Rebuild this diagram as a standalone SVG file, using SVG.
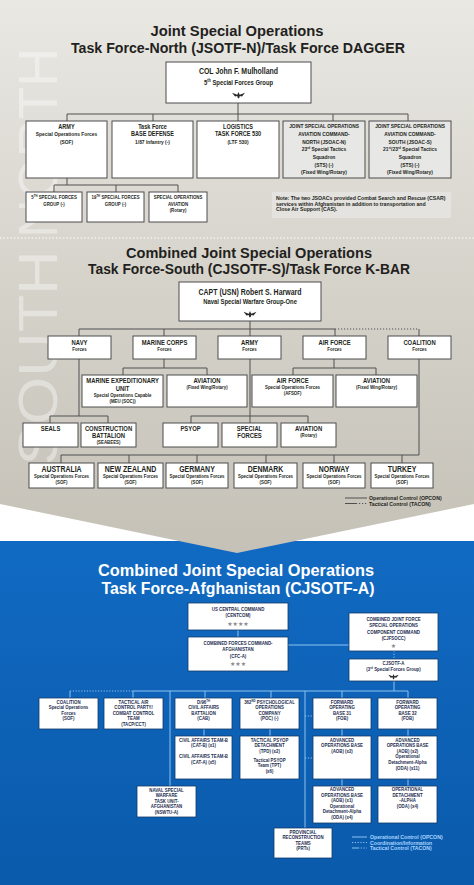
<svg xmlns="http://www.w3.org/2000/svg" width="474" height="885" viewBox="0 0 474 885">
<defs>
<linearGradient id="gray" x1="0" y1="0" x2="0" y2="1">
<stop offset="0" stop-color="#e9e8e3"/>
<stop offset="0.5" stop-color="#d6d3cb"/>
<stop offset="1" stop-color="#c5c1b7"/>
</linearGradient>
<linearGradient id="blue" x1="0" y1="0" x2="0" y2="1">
<stop offset="0" stop-color="#116ac2"/>
<stop offset="1" stop-color="#0a5aab"/>
</linearGradient>
<g id="eagle"><path d="M-6.5,-2.2 L-1.2,-0.2 L0,-3 L1.2,-0.2 L6.5,-2.2 L3.5,1.6 L1.3,1 L0.8,2.8 L0,3.6 L-0.8,2.8 L-1.3,1 L-3.5,1.6 Z" fill="#2a2a2a"/></g>
</defs>
<style>
text{font-family:'Liberation Sans',Arial,sans-serif;font-weight:bold;fill:#231f20;text-anchor:middle}
text.k{transform-box:fill-box;transform-origin:center;transform:scaleX(0.84)}
.h{font-size:14.3px}
.hw{font-size:17.2px;fill:#ffffff}
.wm{font-weight:normal;fill:#ffffff;fill-opacity:0.38;font-size:56px}
.s9{font-size:8.3px}
.s8{font-size:7px}
.s7{font-size:6.6px}
.s6{font-size:5.8px}
.s5{font-size:5.2px}
.l{text-anchor:start}
.bt{fill:#1c2d4f}
.lg{fill:#a9d5ff;font-size:5.2px;text-anchor:start}
.star{fill:#8a8a8a;font-family:'DejaVu Sans',sans-serif;font-size:6px}
.box{fill:#ffffff;stroke:#4d4d4d;stroke-width:1}
.gbox{fill:#e7e7e6;stroke:#4d4d4d;stroke-width:1}
.bbox{fill:#ffffff;stroke:#123a6a;stroke-width:0.8}
.c{stroke:#505050;stroke-width:1;fill:none}
.cd{stroke:#505050;stroke-width:1;fill:none;stroke-dasharray:1.2 1.8}
.cb{stroke:#8dc3f2;stroke-width:1;fill:none}
.cbd{stroke:#8dc3f2;stroke-width:1;fill:none;stroke-dasharray:1.2 1.6}
</style>

<!-- backgrounds -->
<rect x="0" y="0" width="474" height="885" fill="#ffffff"/>
<rect x="0" y="541" width="474" height="344" fill="url(#blue)"/>
<polygon points="0,0 474,0 474,504 237,553 0,504" fill="url(#gray)"/>
<text class="wm" transform="translate(57,143) rotate(-90)" textLength="190" lengthAdjust="spacingAndGlyphs">NORTH</text>
<text class="wm" transform="translate(57,358) rotate(-90)" textLength="215" lengthAdjust="spacingAndGlyphs">SOUTH</text>
<line x1="0" y1="238" x2="474" y2="238" stroke="#ffffff" stroke-width="1" stroke-dasharray="1.5 2"/>

<!-- titles -->
<g id="title-north">
<text class="h" x="237" y="36" textLength="173" lengthAdjust="spacingAndGlyphs">Joint Special Operations</text>
<text class="h" x="238" y="53" textLength="334" lengthAdjust="spacingAndGlyphs">Task Force-North (JSOTF-N)/Task Force DAGGER</text>
</g>
<g id="title-south">
<text class="h" x="249" y="257.5" textLength="246" lengthAdjust="spacingAndGlyphs">Combined Joint Special Operations</text>
<text class="h" x="249" y="273.5" textLength="322" lengthAdjust="spacingAndGlyphs">Task Force-South (CJSOTF-S)/Task Force K-BAR</text>
</g>
<g id="title-afg">
<text class="hw" x="236" y="575.5" textLength="276" lengthAdjust="spacingAndGlyphs">Combined Joint Special Operations</text>
<text class="hw" x="238" y="593.5" textLength="273" lengthAdjust="spacingAndGlyphs">Task Force-Afghanistan (CJSOTF-A)</text>
</g>

<!-- connectors -->
<g id="connectors">
<path class="c" d="M238,103V114 M67,114H408 M67,114V121 M153,114V121 M238,114V121 M333,114V121 M408,114V121"/>
<path class="c" d="M67,178V185 M54,185H178 M54,185V192 M116,185V192 M178,185V192"/>
<path class="c" d="M250,321V329 M79,329H335 M79,329V336 M164,329V336 M250,329V336 M335,329V336 M419,329V336"/>
<path class="cd" d="M335,329H419"/>
<path class="c" d="M79,359V416 M50,416H108 M50,416V423 M108,416V423"/>
<path class="c" d="M164,359V368 M123,368H207 M123,368V375 M207,368V375"/>
<path class="c" d="M250,359V416 M191,416H308 M191,416V423 M250,416V423 M308,416V423"/>
<path class="c" d="M334,359V368 M293,368H376 M293,368V375 M376,368V375"/>
<path class="c" d="M419,359V455 M61,455H419 M61,455V463 M129,455V463 M197,455V463 M266,455V463 M334,455V463 M402,455V463"/>
<path class="cb" d="M238,630V637 M288,645H349 M394,681V691 M133,691H408"/>
<path class="cbd" d="M394,651V659 M70,691H133"/>
<path class="cb" d="M70,691V698 M133,691V698 M205,691V698 M271,691V698 M342,691V698 M408,691V698"/>
<path class="cb" d="M170,691V786 M305,691V828"/>
<path class="cbd" d="M305,716H313 M305,758H313"/>
<path class="cb" d="M204,729V736 M270,729V736 M342,729V736 M408,729V736 M342,779V786 M408,779V786"/>
</g>

<!-- ===== NORTH nodes ===== -->
<g id="n-col">
<rect class="box" x="166" y="62" width="145" height="41"/>
<text class="s9 k" x="238.5" y="74">COL John F. Mulholland</text>
<text class="s8 k" x="238.5" y="85">5<tspan font-size="4.5" dy="-2.5">th</tspan><tspan dy="2.5"> Special Forces Group</tspan></text>
<use href="#eagle" x="238.5" y="95"/>
</g>
<g id="n-army">
<rect class="box" x="26" y="121" width="81" height="57"/>
<text class="s7 k" x="66.5" y="129">ARMY</text>
<text class="s6 k" x="66.5" y="136.5">Special Operations Forces</text>
<text class="s6 k" x="66.5" y="144">(SOF)</text>
</g>
<g id="n-tfbd">
<rect class="box" x="112" y="121" width="81" height="57"/>
<text class="s7 k" x="152.5" y="129">Task Force</text>
<text class="s7 k" x="152.5" y="136.5">BASE DEFENSE</text>
<text class="s6 k" x="152.5" y="144">1/87 Infantry  (-)</text>
</g>
<g id="n-ltf">
<rect class="box" x="197" y="121" width="82" height="57"/>
<text class="s7 k" x="238" y="129">LOGISTICS</text>
<text class="s7 k" x="238" y="136.5">TASK FORCE 530</text>
<text class="s6 k" x="238" y="144">(LTF 530)</text>
</g>
<g id="n-jsoacn">
<rect class="gbox" x="283" y="121" width="82" height="57"/>
<text class="s6 k" x="324" y="128.3">JOINT SPECIAL OPERATIONS</text>
<text class="s6 k" x="324" y="136">AVIATION COMMAND-</text>
<text class="s6 k" x="324" y="143.7">NORTH  (JSOAC-N)</text>
<text class="s6 k" x="324" y="151.3">23<tspan font-size="3.6" dy="-2">rd</tspan><tspan dy="2"> Special Tactics</tspan></text>
<text class="s6 k" x="324" y="159">Squadron</text>
<text class="s6 k" x="324" y="166.7">(STS) (-)</text>
<text class="s6 k" x="324" y="174.3">(Fixed  Wing/Rotary)</text>
</g>
<g id="n-jsoacs">
<rect class="gbox" x="369" y="121" width="82" height="57"/>
<text class="s6 k" x="410" y="128.3">JOINT SPECIAL OPERATIONS</text>
<text class="s6 k" x="410" y="136">AVIATION COMMAND-</text>
<text class="s6 k" x="410" y="143.7">SOUTH  (JSOAC-S)</text>
<text class="s6 k" x="410" y="151.3">21<tspan font-size="3.6" dy="-2">st</tspan><tspan dy="2">/23</tspan><tspan font-size="3.6" dy="-2">rd</tspan><tspan dy="2"> Special Tactics</tspan></text>
<text class="s6 k" x="410" y="159">Squadron</text>
<text class="s6 k" x="410" y="166.7">(STS) (-)</text>
<text class="s6 k" x="410" y="174.3">(Fixed  Wing/Rotary)</text>
</g>
<g id="n-5sfg">
<rect class="box" x="26" y="192" width="56" height="30"/>
<text class="s5 k" x="54" y="199.3">5<tspan font-size="3.4" dy="-1.8">TH</tspan><tspan dy="1.8"> SPECIAL FORCES</tspan></text>
<text class="s5 k" x="54" y="205.7">GROUP (-)</text>
</g>
<g id="n-19sfg">
<rect class="box" x="87" y="192" width="57" height="30"/>
<text class="s5 k" x="115.5" y="199.3">19<tspan font-size="3.4" dy="-1.8">TH</tspan><tspan dy="1.8"> SPECIAL FORCES</tspan></text>
<text class="s5 k" x="115.5" y="205.7">GROUP (-)</text>
</g>
<g id="n-soa">
<rect class="box" x="149" y="192" width="58" height="30"/>
<text class="s5 k" x="178" y="199.3">SPECIAL OPERATIONS</text>
<text class="s5 k" x="178" y="205.7">AVIATION</text>
<text class="s5 k" x="178" y="211.8" font-weight="normal">(Rotary)</text>
</g>
<g id="n-note">
<rect x="272" y="192" width="179" height="26" fill="#e4e3df"/>
<text class="s5 l" x="276" y="200">Note: The two JSOACs provided Combat Search and Rescue (CSAR)</text>
<text class="s5 l" x="276" y="205.7">services within Afghanistan in addition to transportation and</text>
<text class="s5 l" x="276" y="211.4">Close Air Support (CAS).</text>
</g>

<!-- ===== SOUTH nodes ===== -->
<g id="s-capt">
<rect class="box" x="179" y="282" width="142" height="39"/>
<text class="s9 k" x="250" y="295">CAPT (USN) Robert S. Harward</text>
<text class="s8 k" x="250" y="304">Naval Special Warfare Group-One</text>
<use href="#eagle" x="250" y="314"/>
</g>
<g id="s-navy"><rect class="box" x="48" y="336" width="63" height="23"/><text class="s8 k" x="79.5" y="345">NAVY</text><text class="s5 k" x="79.5" y="351.5">Forces</text></g>
<g id="s-marine"><rect class="box" x="133" y="336" width="63" height="23"/><text class="s8 k" x="164.5" y="345">MARINE CORPS</text><text class="s5 k" x="164.5" y="351.5">Forces</text></g>
<g id="s-army"><rect class="box" x="218" y="336" width="63" height="23"/><text class="s8 k" x="249.5" y="345">ARMY</text><text class="s5 k" x="249.5" y="351.5">Forces</text></g>
<g id="s-af"><rect class="box" x="303" y="336" width="63" height="23"/><text class="s8 k" x="334.5" y="345">AIR FORCE</text><text class="s5 k" x="334.5" y="351.5">Forces</text></g>
<g id="s-coal"><rect class="box" x="388" y="336" width="63" height="23"/><text class="s8 k" x="419.5" y="345">COALITION</text><text class="s5 k" x="419.5" y="351.5">Forces</text></g>
<g id="s-meu"><rect class="box" x="82" y="375" width="81" height="32"/>
<text class="s8 k" x="122.5" y="383.5">MARINE EXPEDITIONARY</text>
<text class="s8 k" x="122.5" y="391">UNIT</text>
<text class="s5 k" x="122.5" y="397.3">Special Operations Capable</text>
<text class="s5 k" x="122.5" y="402.8">(MEU (SOC))</text></g>
<g id="s-mav"><rect class="box" x="167" y="375" width="80" height="32"/>
<text class="s8 k" x="207" y="383.5">AVIATION</text>
<text class="s5 k" x="207" y="389.5">(Fixed  Wing/Rotary)</text></g>
<g id="s-afsof"><rect class="box" x="252" y="375" width="81" height="32"/>
<text class="s8 k" x="292.5" y="383.5">AIR FORCE</text>
<text class="s5 k" x="292.5" y="389.5">Special Operations Forces</text>
<text class="s5 k" x="292.5" y="395">(AFSOF)</text></g>
<g id="s-afav"><rect class="box" x="336" y="375" width="81" height="32"/>
<text class="s8 k" x="376.5" y="383.5">AVIATION</text>
<text class="s5 k" x="376.5" y="389.5">(Fixed  Wing/Rotary)</text></g>
<g id="s-seals"><rect class="box" x="23" y="423" width="55" height="24"/><text class="s8 k" x="50.5" y="431">SEALS</text></g>
<g id="s-cb"><rect class="box" x="81" y="423" width="55" height="24"/>
<text class="s8 k" x="108.5" y="430.8">CONSTRUCTION</text>
<text class="s8 k" x="108.5" y="438.3">BATTALION</text>
<text class="s5 k" x="108.5" y="444">(SEABEES)</text></g>
<g id="s-psyop"><rect class="box" x="163" y="423" width="55" height="24"/><text class="s8 k" x="190.5" y="431">PSYOP</text></g>
<g id="s-sf"><rect class="box" x="222" y="423" width="55" height="24"/><text class="s8 k" x="249.5" y="430.8">SPECIAL</text><text class="s8 k" x="249.5" y="438.3">FORCES</text></g>
<g id="s-aav"><rect class="box" x="281" y="423" width="55" height="24"/><text class="s8 k" x="308.5" y="430.8">AVIATION</text><text class="s5 k" x="308.5" y="437">(Rotary)</text></g>
<g id="s-aus"><rect class="box" x="29" y="463" width="65" height="25"/><text class="s9 k" x="61.5" y="472">AUSTRALIA</text><text class="s5 k" x="61.5" y="478.3">Special Operations Forces</text><text class="s5 k" x="61.5" y="484">(SOF)</text></g>
<g id="s-nz"><rect class="box" x="98" y="463" width="65" height="25"/><text class="s9 k" x="130.5" y="472">NEW ZEALAND</text><text class="s5 k" x="130.5" y="478.3">Special Operations Forces</text><text class="s5 k" x="130.5" y="484">(SOF)</text></g>
<g id="s-ger"><rect class="box" x="166" y="463" width="62" height="25"/><text class="s9 k" x="197" y="472">GERMANY</text><text class="s5 k" x="197" y="478.3">Special Operations Forces</text><text class="s5 k" x="197" y="484">(SOF)</text></g>
<g id="s-den"><rect class="box" x="234" y="463" width="63" height="25"/><text class="s9 k" x="265.5" y="472">DENMARK</text><text class="s5 k" x="265.5" y="478.3">Special Operations Forces</text><text class="s5 k" x="265.5" y="484">(SOF)</text></g>
<g id="s-nor"><rect class="box" x="303" y="463" width="62" height="25"/><text class="s9 k" x="334" y="472">NORWAY</text><text class="s5 k" x="334" y="478.3">Special Operations Forces</text><text class="s5 k" x="334" y="484">(SOF)</text></g>
<g id="s-tur"><rect class="box" x="371" y="463" width="62" height="25"/><text class="s9 k" x="402" y="472">TURKEY</text><text class="s5 k" x="402" y="478.3">Special Operations Forces</text><text class="s5 k" x="402" y="484">(SOF)</text></g>
<g id="s-legend">
<line class="c" x1="345" y1="498" x2="367" y2="498"/>
<line class="c" x1="345" y1="503.5" x2="356" y2="503.5"/>
<line class="cd" x1="356" y1="503.5" x2="367" y2="503.5"/>
<text class="s5 l" x="369" y="500">Operational Control (OPCON)</text>
<text class="s5 l" x="369" y="505.5">Tactical Control (TACON)</text>
</g>

<!-- ===== AFGHANISTAN nodes ===== -->
<g id="a-centcom"><rect class="bbox" x="188" y="603" width="100" height="27"/>
<text class="s5 bt k" x="238" y="611">US CENTRAL COMMAND</text>
<text class="s5 bt k" x="238" y="617.5">(CENTCOM)</text>
<text class="star" x="238" y="626">★★★★</text></g>
<g id="a-cfca"><rect class="bbox" x="188" y="637" width="100" height="34"/>
<text class="s5 bt k" x="238" y="645">COMBINED FORCES COMMAND-</text>
<text class="s5 bt k" x="238" y="651.5">AFGHANISTAN</text>
<text class="s5 bt k" x="238" y="658">(CFC-A)</text>
<text class="star" x="238" y="666">★★★</text></g>
<g id="a-cjfsocc"><rect class="bbox" x="349" y="613" width="89" height="38"/>
<text class="s5 bt k" x="393.5" y="621">COMBINED JOINT FORCE</text>
<text class="s5 bt k" x="393.5" y="627.5">SPECIAL OPERATIONS</text>
<text class="s5 bt k" x="393.5" y="634">COMPONENT COMMAND</text>
<text class="s5 bt k" x="393.5" y="640.5">(CJFSOCC)</text>
<text class="star" x="393.5" y="648">★</text></g>
<g id="a-cjsotfa"><rect class="bbox" x="349" y="659" width="89" height="22"/>
<text class="s5 bt k" x="393.5" y="665.5">CJSOTF-A</text>
<text class="s5 bt k" x="393.5" y="671" font-size="4.6">(3<tspan font-size="3.2" dy="-1.6">rd</tspan><tspan dy="1.6"> Special Forces Group)</tspan></text>
<use href="#eagle" transform="translate(393.5,676.5) scale(0.8)"/></g>
<g id="a-coal"><rect class="bbox" x="39" y="698" width="59" height="31"/>
<text class="s5 bt k" x="68.5" y="704">COALITION</text>
<text class="s5 bt k" x="68.5" y="709.5">Special Operations</text>
<text class="s5 bt k" x="68.5" y="715">Forces</text>
<text class="s5 bt k" x="68.5" y="720.5">(SOF)</text></g>
<g id="a-tacp"><rect class="bbox" x="104" y="698" width="59" height="31"/>
<text class="s5 bt k" x="133.5" y="704">TACTICAL AIR</text>
<text class="s5 bt k" x="133.5" y="709.5">CONTROL PARTY/</text>
<text class="s5 bt k" x="133.5" y="715">COMBAT CONTROL</text>
<text class="s5 bt k" x="133.5" y="720.5">TEAM</text>
<text class="s5 bt k" x="133.5" y="726">(TACP/CCT)</text></g>
<g id="a-cab"><rect class="bbox" x="175" y="698" width="57" height="31"/>
<text class="s5 bt k" x="203.5" y="704">D/96<tspan font-size="3.4" dy="-1.8">TH</tspan></text>
<text class="s5 bt k" x="203.5" y="709.5">CIVIL AFFAIRS</text>
<text class="s5 bt k" x="203.5" y="715">BATTALION</text>
<text class="s5 bt k" x="203.5" y="720.5">(CAB)</text></g>
<g id="a-poc"><rect class="bbox" x="240" y="698" width="59" height="31"/>
<text class="s5 bt k" x="269.5" y="704">362<tspan font-size="3.4" dy="-1.8">ND</tspan><tspan dy="1.8"> PSYCHOLOGICAL</tspan></text>
<text class="s5 bt k" x="269.5" y="709.5">OPERATIONS</text>
<text class="s5 bt k" x="269.5" y="715">COMPANY</text>
<text class="s5 bt k" x="269.5" y="720.5">(POC)  (-)</text></g>
<g id="a-fob31"><rect class="bbox" x="313" y="698" width="58" height="31"/>
<text class="s5 bt k" x="342" y="704">FORWARD</text>
<text class="s5 bt k" x="342" y="709.5">OPERATING</text>
<text class="s5 bt k" x="342" y="715">BASE 31</text>
<text class="s5 bt k" x="342" y="720.5">(FOB)</text></g>
<g id="a-fob32"><rect class="bbox" x="378" y="698" width="59" height="31"/>
<text class="s5 bt k" x="407.5" y="704">FORWARD</text>
<text class="s5 bt k" x="407.5" y="709.5">OPERATING</text>
<text class="s5 bt k" x="407.5" y="715">BASE 32</text>
<text class="s5 bt k" x="407.5" y="720.5">(FOB)</text></g>
<g id="a-cat"><rect class="bbox" x="175" y="736" width="57" height="43"/>
<text class="s5 bt k" x="203.5" y="742">CIVIL AFFAIRS TEAM-B</text>
<text class="s5 bt k" x="203.5" y="747.5">(CAT-B)  (x1)</text>
<text class="s5 bt k" x="203.5" y="758.5">CIVIL AFFAIRS TEAM-B</text>
<text class="s5 bt k" x="203.5" y="764">(CAT-A)  (x5)</text></g>
<g id="a-tpd"><rect class="bbox" x="240" y="736" width="59" height="43"/>
<text class="s5 bt k" x="269.5" y="742">TACTICAL PSYOP</text>
<text class="s5 bt k" x="269.5" y="747.5">DETACHMENT</text>
<text class="s5 bt k" x="269.5" y="753">(TPD)  (x2)</text>
<text class="s5 bt k" x="269.5" y="762">Tactical PSYOP</text>
<text class="s5 bt k" x="269.5" y="767.5">Team (TPT)</text>
<text class="s5 bt k" x="269.5" y="773">(x6)</text></g>
<g id="a-aob31"><rect class="bbox" x="313" y="736" width="58" height="43"/>
<text class="s5 bt k" x="342" y="742">ADVANCED</text>
<text class="s5 bt k" x="342" y="747.5">OPERATIONS BASE</text>
<text class="s5 bt k" x="342" y="753">(AOB)  (x2)</text></g>
<g id="a-aob32"><rect class="bbox" x="378" y="736" width="59" height="43"/>
<text class="s5 bt k" x="407.5" y="742">ADVANCED</text>
<text class="s5 bt k" x="407.5" y="747.5">OPERATIONS BASE</text>
<text class="s5 bt k" x="407.5" y="753">(AOB)  (x2)</text>
<text class="s5 bt k" x="407.5" y="758.5">Operational</text>
<text class="s5 bt k" x="407.5" y="764">Detachment-Alpha</text>
<text class="s5 bt k" x="407.5" y="770">(ODA)  (x11)</text></g>
<g id="a-nswtu"><rect class="bbox" x="137" y="786" width="59" height="31"/>
<text class="s5 bt k" x="166.5" y="792">NAVAL SPECIAL</text>
<text class="s5 bt k" x="166.5" y="797.5">WARFARE</text>
<text class="s5 bt k" x="166.5" y="803">TASK UNIT-</text>
<text class="s5 bt k" x="166.5" y="808.5">AFGHANISTAN</text>
<text class="s5 bt k" x="166.5" y="814">(NSWTU-A)</text></g>
<g id="a-aobx1"><rect class="bbox" x="313" y="786" width="58" height="37"/>
<text class="s5 bt k" x="342" y="791.5">ADVANCED</text>
<text class="s5 bt k" x="342" y="797">OPERATIONS BASE</text>
<text class="s5 bt k" x="342" y="802.5">(AOB)  (x1)</text>
<text class="s5 bt k" x="342" y="808">Operational</text>
<text class="s5 bt k" x="342" y="813.5">Detachment-Alpha</text>
<text class="s5 bt k" x="342" y="819">(ODA)  (x4)</text></g>
<g id="a-oda"><rect class="bbox" x="378" y="786" width="59" height="37"/>
<text class="s5 bt k" x="407.5" y="791.5">OPERATIONAL</text>
<text class="s5 bt k" x="407.5" y="797">DETACHMENT</text>
<text class="s5 bt k" x="407.5" y="802.5">-ALPHA</text>
<text class="s5 bt k" x="407.5" y="808">(ODA)  (x4)</text></g>
<g id="a-prt"><rect class="bbox" x="274" y="828" width="58" height="30"/>
<text class="s5 bt k" x="303" y="834">PROVINCIAL</text>
<text class="s5 bt k" x="303" y="839.5">RECONSTRUCTION</text>
<text class="s5 bt k" x="303" y="845">TEAMS</text>
<text class="s5 bt k" x="303" y="850.5">(PRTs)</text></g>
<g id="a-legend">
<line class="cb" x1="352" y1="837" x2="367" y2="837"/>
<line class="cbd" x1="352" y1="842.5" x2="367" y2="842.5"/>
<line class="cb" x1="352" y1="848" x2="358" y2="848"/>
<line class="cbd" x1="358" y1="848" x2="367" y2="848"/>
<text class="lg" x="370" y="839">Operational Control (OPCON)</text>
<text class="lg" x="370" y="844.5">Coordination/Information</text>
<text class="lg" x="370" y="850">Tactical Control (TACON)</text>
</g>
</svg>
